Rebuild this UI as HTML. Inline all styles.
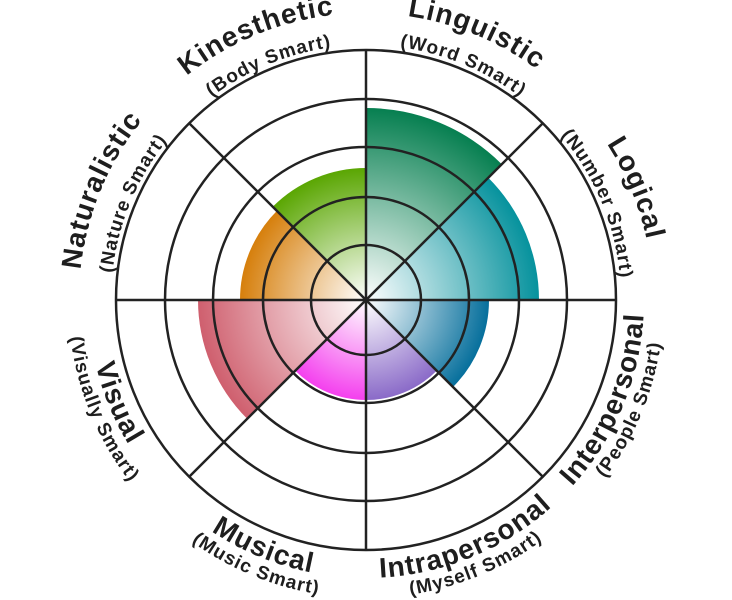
<!DOCTYPE html>
<html><head><meta charset="utf-8"><style>
html,body{margin:0;padding:0;background:#fff;width:732px;height:600px;overflow:hidden}
svg{display:block}
text{font-family:"Liberation Sans",sans-serif;font-weight:bold;fill:#1e1e1e}
.n{font-size:28px;letter-spacing:1px}
.s{font-size:19px;letter-spacing:1px}
</style></head><body>
<svg width="732" height="600" viewBox="0 0 732 600" xmlns="http://www.w3.org/2000/svg">
<defs>
<radialGradient id="g1" gradientUnits="userSpaceOnUse" cx="366" cy="300" r="192"><stop offset="0" stop-color="#fff"/><stop offset="1" stop-color="#067f50"/></radialGradient>
<radialGradient id="g2" gradientUnits="userSpaceOnUse" cx="366" cy="300" r="173"><stop offset="0" stop-color="#fff"/><stop offset="1" stop-color="#06929d"/></radialGradient>
<radialGradient id="g3" gradientUnits="userSpaceOnUse" cx="366" cy="300" r="123"><stop offset="0" stop-color="#fff"/><stop offset="1" stop-color="#066f9c"/></radialGradient>
<radialGradient id="g4" gradientUnits="userSpaceOnUse" cx="366" cy="300" r="100"><stop offset="0" stop-color="#fff"/><stop offset="1" stop-color="#8a6ac8"/></radialGradient>
<radialGradient id="g5" gradientUnits="userSpaceOnUse" cx="366" cy="300" r="100"><stop offset="0" stop-color="#fff"/><stop offset="1" stop-color="#f440ee"/></radialGradient>
<radialGradient id="g6" gradientUnits="userSpaceOnUse" cx="366" cy="300" r="168"><stop offset="0" stop-color="#fff"/><stop offset="1" stop-color="#cf5f6e"/></radialGradient>
<radialGradient id="g7" gradientUnits="userSpaceOnUse" cx="366" cy="300" r="126"><stop offset="0" stop-color="#fff"/><stop offset="1" stop-color="#d67f0c"/></radialGradient>
<radialGradient id="g8" gradientUnits="userSpaceOnUse" cx="366" cy="300" r="132"><stop offset="0" stop-color="#fff"/><stop offset="1" stop-color="#5aa602"/></radialGradient>
<path id="cw1" d="M366,587 A287,287 0 1 1 366,13 A287,287 0 1 1 366,587"/>
<path id="cw2" d="M366,555 A255,255 0 1 1 366,45 A255,255 0 1 1 366,555"/>
<path id="cc1" d="M366,22 A278,278 0 1 0 366,578 A278,278 0 1 0 366,22"/>
<path id="cc2" d="M366,2 A298,298 0 1 0 366,598 A298,298 0 1 0 366,2"/>
</defs>
<path d="M366,300 L366,108 A192,192 0 0 1 501.8,164.2 Z" fill="url(#g1)"/>
<path d="M366,300 L488.3,177.7 A173,173 0 0 1 539,300 Z" fill="url(#g2)"/>
<path d="M366,300 L489,300 A123,123 0 0 1 453,387 Z" fill="url(#g3)"/>
<path d="M366,300 L436.7,370.7 A100,100 0 0 1 366,400 Z" fill="url(#g4)"/>
<path d="M366,300 L366,400 A100,100 0 0 1 295.3,370.7 Z" fill="url(#g5)"/>
<path d="M366,300 L247.2,418.8 A168,168 0 0 1 198,300 Z" fill="url(#g6)"/>
<path d="M366,300 L240,300 A126,126 0 0 1 276.9,210.9 Z" fill="url(#g7)"/>
<path d="M366,300 L272.7,206.7 A132,132 0 0 1 366,168 Z" fill="url(#g8)"/>
<g fill="none" stroke="#222" stroke-width="2.5">
<circle cx="366" cy="300" r="55"/>
<circle cx="366" cy="300" r="103"/>
<circle cx="366" cy="300" r="153"/>
<circle cx="366" cy="300" r="201"/>
<circle cx="366" cy="300" r="250"/>
<line x1="366" y1="50" x2="366" y2="550"/>
<line x1="116" y1="300" x2="616" y2="300"/>
<line x1="189.2" y1="123.2" x2="542.8" y2="476.8"/>
<line x1="542.8" y1="123.2" x2="189.2" y2="476.8"/>
</g>
<text class="n"><textPath href="#cw1" startOffset="43.75%" text-anchor="middle">Kinesthetic</textPath></text>
<text class="s"><textPath href="#cw2" startOffset="43.75%" text-anchor="middle">(Body Smart)</textPath></text>
<text class="n"><textPath href="#cw1" startOffset="56.25%" text-anchor="middle">Linguistic</textPath></text>
<text class="s"><textPath href="#cw2" startOffset="56.25%" text-anchor="middle">(Word Smart)</textPath></text>
<text class="n"><textPath href="#cw1" startOffset="68.75%" text-anchor="middle">Logical</textPath></text>
<text class="s"><textPath href="#cw2" startOffset="68.75%" text-anchor="middle">(Number Smart)</textPath></text>
<text class="n"><textPath href="#cw1" startOffset="31.25%" text-anchor="middle">Naturalistic</textPath></text>
<text class="s"><textPath href="#cw2" startOffset="31.25%" text-anchor="middle">(Nature Smart)</textPath></text>
<text class="n"><textPath href="#cc1" startOffset="31.25%" text-anchor="middle">Visual</textPath></text>
<text class="s"><textPath href="#cc2" startOffset="31.25%" text-anchor="middle">(Visually Smart)</textPath></text>
<text class="n"><textPath href="#cc1" startOffset="43.75%" text-anchor="middle">Musical</textPath></text>
<text class="s"><textPath href="#cc2" startOffset="43.75%" text-anchor="middle">(Music Smart)</textPath></text>
<text class="n"><textPath href="#cc1" startOffset="56.25%" text-anchor="middle">Intrapersonal</textPath></text>
<text class="s"><textPath href="#cc2" startOffset="56.25%" text-anchor="middle">(Myself Smart)</textPath></text>
<text class="n"><textPath href="#cc1" startOffset="68.75%" text-anchor="middle">Interpersonal</textPath></text>
<text class="s"><textPath href="#cc2" startOffset="68.75%" text-anchor="middle">(People Smart)</textPath></text>
</svg>
</body></html>
